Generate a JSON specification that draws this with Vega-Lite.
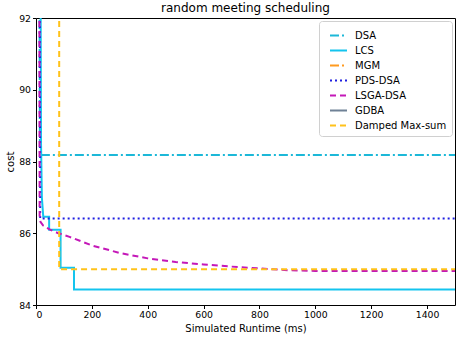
{
  "$schema": "https://vega.github.io/schema/vega-lite/v6.json",
  "width": 419,
  "height": 287,
  "autosize": {"type": "none"},
  "padding": {"left": 36, "top": 18, "right": 19, "bottom": 48},
  "background": "white",
  "title": {"text": "random meeting scheduling", "font": "DejaVu Sans", "fontSize": 12, "fontWeight": "normal", "color": "black", "anchor": "middle", "offset": -1},
  "config": {
    "view": {"stroke": "black", "strokeWidth": 1},
    "font": "DejaVu Sans",
    "axis": {"domain": false, "grid": false, "tickColor": "black", "tickSize": 3.5, "labelColor": "black", "titleColor": "black", "labelFont": "DejaVu Sans", "titleFont": "DejaVu Sans", "labelFontSize": 9.3, "titleFontSize": 10, "titleFontWeight": "normal"}
  },
  "data": {"values": [
    {"series": "DSA", "i": 0, "x": 10, "y": 100},
    {"series": "DSA", "i": 1, "x": 14, "y": 88.18},
    {"series": "DSA", "i": 2, "x": 1500, "y": 88.18},
    {"series": "LCS", "i": 0, "x": 14, "y": 100},
    {"series": "LCS", "i": 1, "x": 18, "y": 88.5},
    {"series": "LCS", "i": 2, "x": 21, "y": 87.0},
    {"series": "LCS", "i": 3, "x": 26, "y": 86.46},
    {"series": "LCS", "i": 4, "x": 47, "y": 86.46},
    {"series": "LCS", "i": 5, "x": 47, "y": 86.1},
    {"series": "LCS", "i": 6, "x": 88, "y": 86.1},
    {"series": "LCS", "i": 7, "x": 88, "y": 85.04},
    {"series": "LCS", "i": 8, "x": 136, "y": 85.04},
    {"series": "LCS", "i": 9, "x": 136, "y": 84.43},
    {"series": "LCS", "i": 10, "x": 1500, "y": 84.43},
    {"series": "MGM", "i": 0, "x": 5, "y": 100},
    {"series": "MGM", "i": 1, "x": 8, "y": 95},
    {"series": "PDS-DSA", "i": 0, "x": 12, "y": 100},
    {"series": "PDS-DSA", "i": 1, "x": 15, "y": 86.41},
    {"series": "PDS-DSA", "i": 2, "x": 1500, "y": 86.41},
    {"series": "LSGA-DSA", "i": 0, "x": 11, "y": 100},
    {"series": "LSGA-DSA", "i": 1, "x": 13, "y": 86.5},
    {"series": "LSGA-DSA", "i": 2, "x": 16, "y": 86.32},
    {"series": "LSGA-DSA", "i": 3, "x": 25, "y": 86.22},
    {"series": "LSGA-DSA", "i": 4, "x": 50, "y": 86.1},
    {"series": "LSGA-DSA", "i": 5, "x": 80, "y": 86.0},
    {"series": "LSGA-DSA", "i": 6, "x": 120, "y": 85.9},
    {"series": "LSGA-DSA", "i": 7, "x": 160, "y": 85.78},
    {"series": "LSGA-DSA", "i": 8, "x": 200, "y": 85.66},
    {"series": "LSGA-DSA", "i": 9, "x": 300, "y": 85.45},
    {"series": "LSGA-DSA", "i": 10, "x": 400, "y": 85.3},
    {"series": "LSGA-DSA", "i": 11, "x": 500, "y": 85.2},
    {"series": "LSGA-DSA", "i": 12, "x": 600, "y": 85.13},
    {"series": "LSGA-DSA", "i": 13, "x": 700, "y": 85.07},
    {"series": "LSGA-DSA", "i": 14, "x": 800, "y": 85.02},
    {"series": "LSGA-DSA", "i": 15, "x": 900, "y": 84.97},
    {"series": "LSGA-DSA", "i": 16, "x": 1000, "y": 84.95},
    {"series": "LSGA-DSA", "i": 17, "x": 1500, "y": 84.95},
    {"series": "GDBA", "i": 0, "x": 5, "y": 100},
    {"series": "GDBA", "i": 1, "x": 9, "y": 96},
    {"series": "Damped Max-sum", "i": 0, "x": 83, "y": 100},
    {"series": "Damped Max-sum", "i": 1, "x": 83, "y": 85.0},
    {"series": "Damped Max-sum", "i": 2, "x": 1500, "y": 85.0}
  ]},
  "mark": {"type": "line", "clip": true, "strokeWidth": 2},
  "encoding": {
    "x": {"field": "x", "type": "quantitative", "scale": {"domain": [0, 1500], "nice": false, "zero": false}, "axis": {"values": [0, 200, 400, 600, 800, 1000, 1200, 1400], "format": "d", "title": "Simulated Runtime (ms)", "labelPadding": 2, "titlePadding": 4}},
    "y": {"field": "y", "type": "quantitative", "scale": {"domain": [84, 92], "nice": false, "zero": false}, "axis": {"values": [84, 86, 88, 90, 92], "format": "d", "title": "cost", "labelPadding": 2, "titlePadding": 3}},
    "order": {"field": "i", "type": "quantitative"},
    "color": {"field": "series", "type": "nominal", "sort": null,
      "scale": {"domain": ["DSA", "LCS", "MGM", "PDS-DSA", "LSGA-DSA", "GDBA", "Damped Max-sum"], "range": ["#1cb8d8", "#14c4ee", "#ff9a1f", "#1f1fe0", "#c418b8", "#6f8196", "#ffc21a"]},
      "legend": {"title": null, "orient": "top-right", "offset": 3, "symbolType": "stroke", "symbolSize": 289, "symbolStrokeWidth": 2, "symbolOffset": 5, "labelFontSize": 10, "labelFont": "DejaVu Sans", "labelColor": "black", "rowPadding": -1.6, "padding": 5, "strokeColor": "#d0d0d0", "fillColor": "white", "cornerRadius": 3, "labelOffset": 7}},
    "strokeDash": {"field": "series", "type": "nominal", "sort": null,
      "scale": {"domain": ["DSA", "LCS", "MGM", "PDS-DSA", "LSGA-DSA", "GDBA", "Damped Max-sum"], "range": [[9, 3, 2, 3], [1, 0], [9, 3, 2, 3], [2, 3], [6, 4], [1, 0], [6, 4]]}}
  }
}
